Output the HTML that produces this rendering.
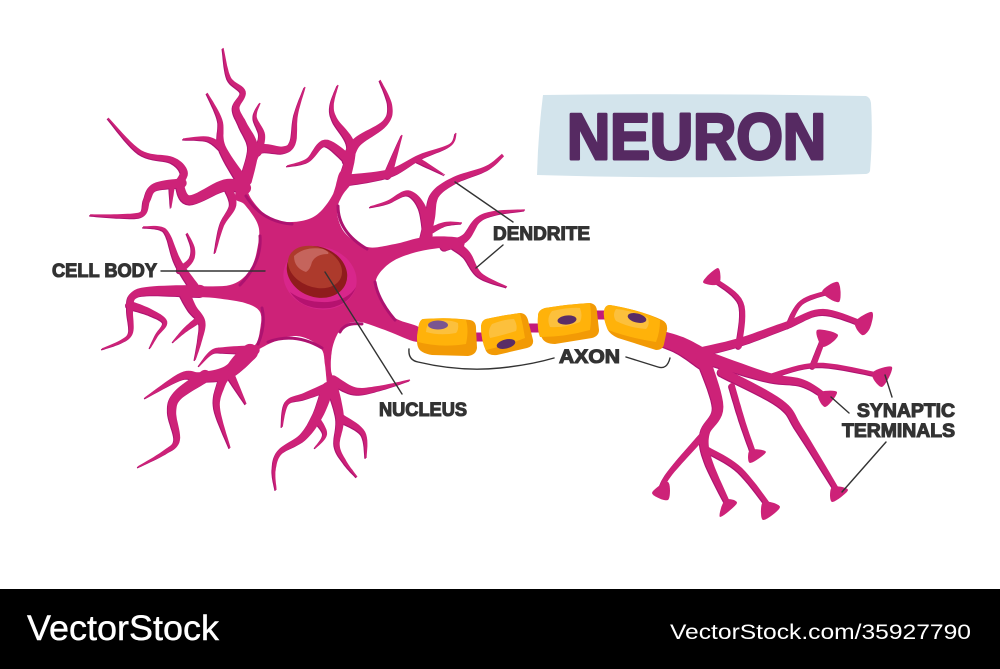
<!DOCTYPE html>
<html><head><meta charset="utf-8"><style>
html,body{margin:0;padding:0;background:#fff}
svg{display:block}
text{font-family:"Liberation Sans",sans-serif;font-weight:bold}
.l{fill:#333;stroke:#333;stroke-width:1.1;font-size:19px}
.c{fill:none;stroke:#333;stroke-width:1.4;stroke-linecap:round}
</style></head><body>
<svg id="s" xmlns="http://www.w3.org/2000/svg" width="1000" height="669" viewBox="0 0 1000 669">
<rect width="1000" height="669" fill="#fff"/>
<path d="M543 95 Q700 93 866 96 Q870 97 871 103 Q873 135 870 171 Q869 174 865 174 Q700 180 537 175 Q538 135 543 95Z" fill="#d3e4ec"/>
<text x="567" y="159" font-size="65" textLength="259" lengthAdjust="spacingAndGlyphs" style="fill:#562a62;stroke:#562a62;stroke-width:3;stroke-linejoin:round">NEURON</text>
<g id="under"></g>
<g id="over"></g>
<g id="detail">
<path d="M470 337L490 337M528 328L542 328M592 315L610 315" stroke="#c31a7a" stroke-width="9" fill="none"/>
<path d="M423 319Q450 317 470 320Q476 321 476 328L477 348Q476 355 468 356L432 355Q420 353 418 347Q416 342 418 330Q419 320 423 319Z" fill="#f29a05"/>
<path d="M423 319Q450 317 466 320Q469 330 466 344Q440 348 418 342Q416 340 418 330Q419 320 423 319Z" fill="#ffb20a"/>
<path d="M432 321Q450 319 458 323Q459 330 456 333Q440 336 426 332Q426 325 432 321Z" fill="#fcc03c"/>
<ellipse cx="438" cy="325" rx="10" ry="4.5" fill="#7a5590"/>
<path d="M486 319Q505 315 520 313Q526 313 528 320L533 340Q534 346 527 348L497 355Q489 356 486 351Q481 340 481 326Q482 320 486 319Z" fill="#f29a05"/>
<path d="M486 319Q505 315 520 313Q523 325 525 338Q505 346 486 350Q481 340 481 326Q482 320 486 319Z" fill="#ffb20a"/>
<path d="M492 324Q505 319 514 319Q518 326 516 331Q500 336 490 338Q487 331 492 324Z" fill="#fcc03c"/>
<ellipse cx="506" cy="344" rx="9.5" ry="4.5" fill="#5a2d66" transform="rotate(-14 506 344)"/>
<path d="M545 308Q570 304 590 303Q597 304 597 312L599 330Q599 336 592 338L555 344Q545 344 542 338Q537 330 538 316Q538 310 545 308Z" fill="#f29a05"/>
<path d="M545 308Q570 304 590 303Q592 318 590 330Q565 337 540 337Q537 330 538 316Q538 310 545 308Z" fill="#ffb20a"/>
<path d="M552 311Q570 307 580 308Q583 316 580 322Q565 328 550 327Q546 318 552 311Z" fill="#fcc03c"/>
<ellipse cx="567" cy="320" rx="9.5" ry="4.5" fill="#5a2d66" transform="rotate(-6 567 320)"/>
<path d="M610 305Q640 310 662 320Q668 323 667 330L664 344Q663 350 656 350L618 338Q609 334 607 328Q603 318 604 311Q605 305 610 305Z" fill="#f29a05"/>
<path d="M610 305Q640 310 660 320Q660 332 656 342Q630 338 608 330Q603 318 604 311Q605 305 610 305Z" fill="#ffb20a"/>
<path d="M616 309Q635 311 648 318Q650 325 646 329Q630 328 616 321Q612 315 616 309Z" fill="#fcc03c"/>
<ellipse cx="637" cy="318" rx="9.5" ry="4.5" fill="#5a2d66" transform="rotate(14 637 318)"/>
<ellipse cx="320" cy="278" rx="37" ry="31" fill="#d8268b" transform="rotate(15 320 278)"/>
<path d="M290 292Q303 311 330 308Q350 304 356 287Q348 300 328 302Q305 303 290 292Z" fill="#b5126f"/>
<ellipse cx="317" cy="272" rx="31" ry="25" fill="#8f1c1c" transform="rotate(22 317 272)"/>
<ellipse cx="315" cy="267" rx="28" ry="20" fill="#ad3a2c" transform="rotate(22 315 267)"/>
<path d="M294 256Q305 246 323 249Q330 252 328 254Q316 254 312 262Q310 270 306 272Q294 268 294 256Z" fill="#c5645c"/>
</g>
<path class="c" d="M161 271H265M325 272L402 394M455 182L513 222M503 245L476 268"/>
<path class="c" d="M409 349Q408 360 418 362Q460 372 500 368Q530 365 554 358M626 357L658 367Q667 370 670 358"/>
<path class="c" d="M885 375L892 397M831 397L849 413M886 442L842 492"/>
<text class="l" x="52" y="277" textLength="105" lengthAdjust="spacingAndGlyphs">CELL BODY</text>
<text class="l" x="493" y="240" textLength="97" lengthAdjust="spacingAndGlyphs">DENDRITE</text>
<text class="l" x="559" y="363" textLength="61" lengthAdjust="spacingAndGlyphs">AXON</text>
<text class="l" x="379" y="416" textLength="88" lengthAdjust="spacingAndGlyphs">NUCLEUS</text>
<text class="l" x="857" y="417" textLength="98" lengthAdjust="spacingAndGlyphs">SYNAPTIC</text>
<text class="l" x="842" y="437" textLength="113" lengthAdjust="spacingAndGlyphs">TERMINALS</text>
<rect y="589" width="1000" height="80" fill="#000"/>
<text x="27" y="640" font-size="35" textLength="192" lengthAdjust="spacingAndGlyphs" style="fill:#fff;font-weight:normal;stroke:#fff;stroke-width:.4">VectorStock</text>
<text x="670" y="639" font-size="21" textLength="301" lengthAdjust="spacingAndGlyphs" style="fill:#fff;font-weight:normal">VectorStock.com/35927790</text>
</svg>
<script>
var NS="http://www.w3.org/2000/svg",P="#cd2278",D="#ad1270";
var U=document.getElementById("under"),O=document.getElementById("over");
function el(par,d,f){var e=document.createElementNS(NS,"path");e.setAttribute("d",d);e.setAttribute("fill",f);par.appendChild(e);return e;}
function cr(p){var r=[];var n=p.length;for(var i=0;i<n-1;i++){var a=p[Math.max(i-1,0)],b=p[i],c=p[i+1],d=p[Math.min(i+2,n-1)];
for(var k=0;k<10;k++){var t=k/10,t2=t*t,t3=t2*t;
r.push([.5*(2*b[0]+(c[0]-a[0])*t+(2*a[0]-5*b[0]+4*c[0]-d[0])*t2+(3*b[0]-a[0]-3*c[0]+d[0])*t3),
.5*(2*b[1]+(c[1]-a[1])*t+(2*a[1]-5*b[1]+4*c[1]-d[1])*t2+(3*b[1]-a[1]-3*c[1]+d[1])*t3)]);}}
r.push(p[n-1]);return r;}
function br(p,w0,w1){var s=cr(p),L=[0],i;for(i=1;i<s.length;i++)L[i]=L[i-1]+Math.hypot(s[i][0]-s[i-1][0],s[i][1]-s[i-1][1]);
var T=L[L.length-1],a=[],b=[];
for(i=0;i<s.length;i++){var q=s[Math.max(i-1,0)],r=s[Math.min(i+1,s.length-1)],dx=r[0]-q[0],dy=r[1]-q[1],m=Math.hypot(dx,dy)||1;
var w=(w0+(w1-w0)*Math.pow(L[i]/T,1.15))/2;
a.push((s[i][0]-dy/m*w).toFixed(1)+" "+(s[i][1]+dx/m*w).toFixed(1));
b.unshift((s[i][0]+dy/m*w).toFixed(1)+" "+(s[i][1]-dx/m*w).toFixed(1));}
var R=w0/2,c="M"+(p[0][0]-R)+" "+p[0][1]+"a"+R+" "+R+" 0 1 0 "+(2*R)+" 0a"+R+" "+R+" 0 1 0 "+(-2*R)+" 0Z";
var d="M"+a.join("L")+"L"+b.join("L")+"Z"+c;
var e=el(U,d,D);e.setAttribute("transform","translate(-.9 .9)");
el(O,d,P);}
function blob(p){var s=cr(p.concat([p[0]]));el(O,"M"+s.map(function(x){return x[0].toFixed(1)+" "+x[1].toFixed(1)}).join("L")+"Z",P);}
function term(p){var n=p.length,q=[p[n-1]].concat(p,[p[0],p[1]]),s=cr(q).slice(10,10+n*10);el(O,"M"+s.map(function(x){return x[0].toFixed(1)+" "+x[1].toFixed(1)}).join("L")+"Z",P);}
blob([[243,180],[252,200],[270,218],[292,222],[315,216],[332,196],[340,172],[350,172],[352,182],[342,196],[337,212],[345,233],[367,247],[395,244],[425,237],[460,238],[462,248],[440,248],[413,253],[390,263],[376,280],[380,300],[395,318],[420,328],[418,342],[385,330],[360,322],[345,325],[337,335],[332,350],[331,370],[335,385],[328,388],[325,365],[322,350],[310,340],[295,336],[278,340],[255,352],[233,373],[226,368],[240,350],[255,345],[260,330],[260,312],[245,303],[215,298],[190,296],[188,287],[230,285],[250,270],[258,245],[258,225],[245,205],[235,198],[240,180]]);
[
[[[246,180],[253,148],[243,125],[236,108],[243,92],[229,78],[223,48]],9,1],
[[[246,178],[258,150],[283,150],[293,142],[296,115],[305,87]],8,1],
[[[258,152],[262,135],[255,117],[260,103]],6,1],
[[[243,182],[222,147],[220,120],[207,93]],8,1],
[[[222,148],[208,139],[183,139]],5,1],
[[[245,188],[225,185],[190,200],[180,185],[184,172],[172,160],[140,152],[108,118]],9,1],
[[[182,183],[155,187],[147,200],[142,214],[120,216],[90,215]],7,1],
[[[172,187],[171,208]],4,.5],
[[[228,187],[233,205],[222,225],[215,253]],6,1],
[[[195,288],[178,262],[168,235],[160,228],[143,227]],7,1],
[[[180,270],[191,260],[193,248],[187,233]],5,1],
[[[200,291],[150,291],[133,296],[130,310],[131,332],[122,341],[102,349]],9,1],
[[[130,305],[150,312],[165,322],[157,335],[150,348]],6,1],
[[[184,292],[192,308],[202,322],[200,340],[195,360]],8,1],
[[[198,320],[185,330],[173,342]],5,1],
[[[255,350],[225,350],[212,352],[199,366]],7,1],
[[[250,352],[228,372],[200,377],[182,376],[145,398]],12,1],
[[[205,376],[178,395],[172,412],[177,440],[165,452],[138,467]],9,1],
[[[228,372],[221,385],[217,408],[230,448]],7,1],
[[[230,374],[246,404]],6,1],
[[[333,385],[305,396],[287,403],[282,427]],7,1],
[[[328,388],[318,415],[303,437],[280,452],[274,470],[276,490]],9,1],
[[[316,418],[325,434],[315,448]],5,1],
[[[332,385],[340,418],[337,445],[345,462],[357,477]],8,1],
[[[341,418],[363,433],[366,458]],6,1],
[[[333,380],[355,391],[380,388],[410,380]],7,1],
[[[346,175],[351,145],[335,120],[332,105],[338,85]],8,1],
[[[347,158],[325,143],[308,160],[287,166]],7,1],
[[[348,160],[357,142],[385,123],[390,105],[380,80]],8,1],
[[[348,180],[390,173],[420,157],[450,145],[456,133]],8,1],
[[[388,175],[402,135]],6,1],
[[[418,160],[445,175]],4,.5],
[[[425,240],[430,218],[435,195],[455,180],[487,168],[503,155]],8,2.5],
[[[428,235],[422,207],[408,193],[388,202],[370,207]],7,1],
[[[428,232],[445,224],[462,223]],5,1],
[[[445,246],[465,238],[478,220],[495,213],[525,210]],7,1],
[[[455,245],[467,255],[480,275],[507,287]],7,1]
].forEach(function(b){br(b[0],b[1]*1.35,b[2]*1.3);});
[
[[[650,335],[680,345],[705,360]],14,20],
[[[700,352],[740,342],[787,325],[823,312],[866,325]],9,5],
[[[739,346],[741,303],[712,278]],6,4],
[[[788,326],[802,302],[832,291]],5,4],
[[[702,356],[767,377],[803,383],[828,398]],13,5],
[[[765,378],[817,365],[880,375]],5,4],
[[[813,366],[823,340],[826,332]],6,5],
[[[722,372],[780,403],[800,430],[840,495]],9,5],
[[[732,386],[743,423],[755,457]],6,5],
[[[703,358],[718,407],[705,433],[708,460],[730,508]],13,5],
[[[706,432],[670,473],[660,492]],7,5],
[[[708,450],[740,470],[772,510]],6,5]
].forEach(function(b){br(b[0],b[1],b[2]);});
[[[872,312],[870,328],[862,335],[855,322]],
[[703,282],[718,268],[719,284]],
[[838,282],[839,302],[822,292]],
[[837,392],[825,407],[818,393]],
[[892,367],[882,387],[872,373]],
[[817,330],[838,335],[823,347]],
[[848,490],[832,502],[832,487]],
[[766,452],[750,463],[750,450]],
[[737,503],[720,517],[725,500]],
[[652,493],[668,500],[668,482]],
[[780,507],[763,520],[763,502]]].forEach(term);
var sh=document.createElementNS(NS,"path");
sh.setAttribute("d","M246 196Q262 222 292 224M338 206Q338 232 367 249M260 236Q262 262 240 285M262 308Q266 325 258 344M375 282Q378 300 395 320M340 332Q345 322 362 324M268 342Q295 332 322 348");
sh.setAttribute("fill","none");sh.setAttribute("stroke",D);sh.setAttribute("stroke-width","3");sh.setAttribute("stroke-linecap","round");
O.appendChild(sh);
</script>
</body></html>
